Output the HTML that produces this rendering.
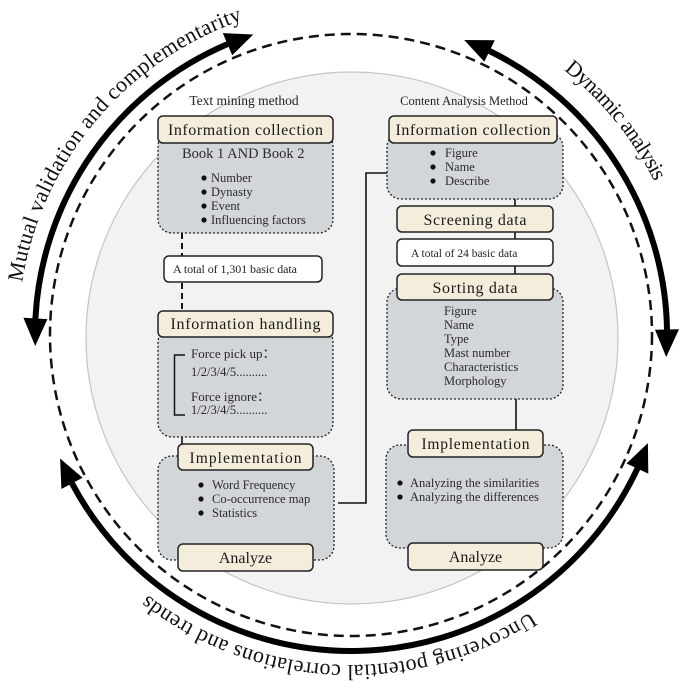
<!DOCTYPE html>
<html><head><meta charset="utf-8"><style>
html,body{margin:0;padding:0;background:#fff;}
svg{display:block;}
svg text{font-family:"Liberation Serif",serif;}
</style></head><body>
<svg width="685" height="691" viewBox="0 0 685 691" xmlns="http://www.w3.org/2000/svg" font-family="Liberation Serif, serif">
<defs>
<path id="ptl" d="M62.6,501.5 A333,333 0 0 1 517.5,46.6"/>
<path id="ptr" d="M292,0.2 A340,340 0 0 1 670.5,451.3"/>
<path id="pb" d="M681,335 A330,330 0 0 1 21,335"/>
</defs>
<circle cx="352" cy="338" r="266" fill="#f2f2f2" stroke="#c4c4c4" stroke-width="1.2"/>
<circle cx="351" cy="335" r="301" fill="none" stroke="#111" stroke-width="2.5" stroke-dasharray="10 6"/>
<g fill="none" stroke="#000" stroke-width="6">
<path d="M35.4,318.5 A316,316 0 0 1 227.5,44.1"/>
<path d="M489.5,51 A316,316 0 0 1 667,329.5"/>
<path d="M637.4,468.5 A316,316 0 0 1 72,483.4"/>
</g>
<g fill="#000">
<polygon points="35.2,346 47.4,319.1 23.4,317.8"/>
<polygon points="253.3,34.5 232.2,55.2 222.8,33.1"/>
<polygon points="464.2,40 484.3,61.8 494.8,40.2"/>
<polygon points="666.2,357 655,329.7 679,329.3"/>
<polygon points="647.9,443.1 626.5,463.5 648.3,473.6"/>
<polygon points="60.1,458.5 82.6,477.7 61.4,489"/>
</g>
<g font-size="22" fill="#111">
<text><textPath href="#ptl" startOffset="46.7%" text-anchor="middle" textLength="360" lengthAdjust="spacing">Mutual validation and complementarity</textPath></text>
<text><textPath href="#ptr" startOffset="50.8%" text-anchor="middle" textLength="145" lengthAdjust="spacing">Dynamic analysis</textPath></text>
<text><textPath href="#pb" startOffset="51.4%" text-anchor="middle" textLength="409" lengthAdjust="spacing">Uncovering potential correlations and trends</textPath></text>
</g>

<g fill="#222">
<text x="244" y="105" font-size="13.5" text-anchor="middle">Text mining method</text>
<text x="464" y="105" font-size="12.5" text-anchor="middle">Content Analysis Method</text>
</g>

<g stroke="#111" stroke-width="1.6" fill="none">
<line x1="182" y1="233" x2="182" y2="311" stroke-dasharray="6 4" stroke-width="2"/>
<line x1="182" y1="437" x2="182" y2="444"/>
<polyline points="338,503 366,503 366,173 413,173"/>
<line x1="515" y1="199" x2="515" y2="274"/>
<line x1="516" y1="399" x2="516" y2="430"/>
</g>

<g fill="#d3d6d9" stroke="#222" stroke-width="1.3" stroke-dasharray="2 2">
<rect x="158" y="132" width="175" height="101" rx="14"/>
<rect x="158" y="328" width="175" height="109" rx="14"/>
<rect x="158" y="456" width="176" height="104" rx="14"/>
<rect x="387" y="133" width="176" height="66" rx="14"/>
<rect x="387" y="288" width="176" height="111" rx="14"/>
<rect x="386" y="445" width="177" height="103" rx="14"/>
</g>

<g fill="#f5eddb" stroke="#222" stroke-width="1.5">
<rect x="158" y="116" width="175" height="27" rx="5"/>
<rect x="158" y="311" width="175" height="26" rx="5"/>
<rect x="178" y="444" width="135" height="26" rx="5"/>
<rect x="178" y="544" width="135" height="27" rx="5"/>
<rect x="389" y="116" width="168" height="27" rx="5"/>
<rect x="397" y="206" width="156" height="26" rx="5"/>
<rect x="397" y="274" width="156" height="26" rx="5"/>
<rect x="408" y="430" width="135" height="27" rx="5"/>
<rect x="408" y="543" width="135" height="27" rx="5"/>
</g>
<g fill="#fff" stroke="#222" stroke-width="1.5">
<rect x="164" y="256" width="158" height="26" rx="5"/>
<rect x="397" y="239" width="156" height="27" rx="5"/>
</g>

<g fill="#1a1a1a" font-size="16" text-anchor="middle">
<text x="245.5" y="135" textLength="155" lengthAdjust="spacing">Information collection</text>
<text x="245.5" y="329" textLength="150" lengthAdjust="spacing">Information handling</text>
<text x="245.5" y="463" font-size="15.5" textLength="112" lengthAdjust="spacing">Implementation</text>
<text x="245.5" y="563">Analyze</text>
<text x="473" y="135" textLength="155" lengthAdjust="spacing">Information collection</text>
<text x="475" y="225" textLength="103" lengthAdjust="spacing">Screening data</text>
<text x="475" y="293" textLength="85" lengthAdjust="spacing">Sorting data</text>
<text x="475.5" y="449" font-size="15.5" textLength="108" lengthAdjust="spacing">Implementation</text>
<text x="475.5" y="562">Analyze</text>
</g>

<g fill="#222" font-size="12">
<text x="173" y="273" textLength="124" lengthAdjust="spacing">A total of 1,301 basic data</text>
<text x="411" y="257" font-size="11.5">A total of 24 basic data</text>
</g>

<g fill="#2a2a2a" font-size="12.5">
<text x="182" y="158" font-size="14.5">Book 1 AND Book 2</text>
<text x="211" y="182">Number</text>
<text x="211" y="196">Dynasty</text>
<text x="211" y="210">Event</text>
<text x="211" y="224">Influencing factors</text>
<text x="191" y="358" font-size="13">Force pick up：</text>
<text x="191" y="376">1/2/3/4/5..........</text>
<text x="191" y="401" font-size="13">Force ignore：</text>
<text x="191" y="414">1/2/3/4/5..........</text>
<text x="212" y="489">Word Frequency</text>
<text x="212" y="503">Co-occurrence map</text>
<text x="212" y="517">Statistics</text>
<text x="445" y="157">Figure</text>
<text x="445" y="171">Name</text>
<text x="445" y="185">Describe</text>
<text x="444" y="315">Figure</text>
<text x="444" y="329">Name</text>
<text x="444" y="343">Type</text>
<text x="444" y="357">Mast number</text>
<text x="444" y="371">Characteristics</text>
<text x="444" y="385">Morphology</text>
<text x="410" y="487">Analyzing the similarities</text>
<text x="410" y="501">Analyzing the differences</text>
</g>
<g fill="#111">
<circle cx="204" cy="178" r="2.6"/><circle cx="204" cy="192" r="2.6"/><circle cx="204" cy="206" r="2.6"/><circle cx="204" cy="220" r="2.6"/>
<circle cx="201" cy="485" r="2.6"/><circle cx="201" cy="499" r="2.6"/><circle cx="201" cy="513" r="2.6"/>
<circle cx="433" cy="153" r="2.6"/><circle cx="433" cy="167" r="2.6"/><circle cx="433" cy="181" r="2.6"/>
<circle cx="400" cy="483" r="2.6"/><circle cx="400" cy="497" r="2.6"/>
</g>
<polyline points="185,355 174.5,355 174.5,415 185,415" fill="none" stroke="#111" stroke-width="1.5"/>
</svg>
</body></html>
